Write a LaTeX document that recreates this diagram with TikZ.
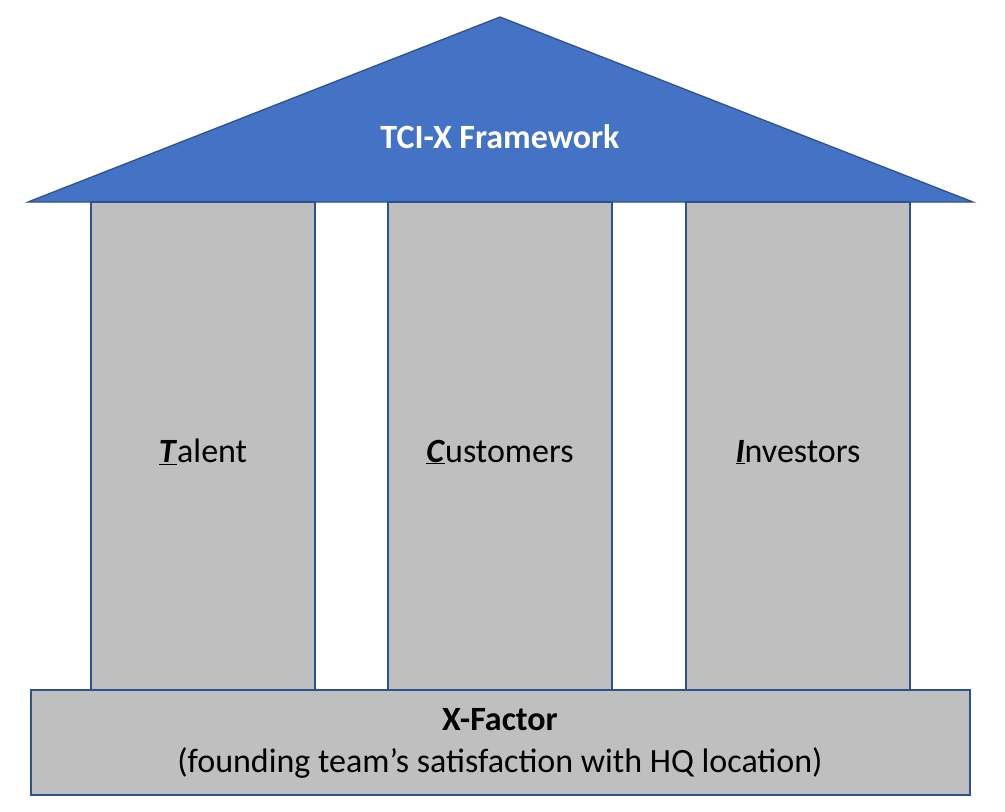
\documentclass[tikz,border=0pt]{standalone}
\usepackage{fontspec}
\setmainfont{Carlito}
\begin{document}
\begin{tikzpicture}[x=1pt,y=-1pt,
  lbl/.style={font=\fontsize{34}{42}\selectfont}]
\useasboundingbox (0,0) rectangle (1005,812);
\definecolor{roofc}{HTML}{4472C4}
\definecolor{edgec}{HTML}{2F528F}
\definecolor{grayc}{HTML}{BFBFBF}
\tikzset{part/.style={draw=edgec, line width=1.3pt, fill=grayc}}
\draw[fill=roofc, draw=edgec, line width=1.3pt] (28,202) -- (500,17) -- (973,202) -- cycle;
\node[lbl, text=white, font=\bfseries\fontsize{34}{42}\selectfont] (roof) at (500,137) {TCI-X Framework};
\draw[part] (91,202) rectangle (315,690);
\draw[part] (388,202) rectangle (612,690);
\draw[part] (686,202) rectangle (910,690);
\node[lbl] (t) at (203,452) {\underline{\textbf{\textit{T}}}alent};
\node[lbl] (c) at (500,452) {\underline{\textbf{\textit{C}}}ustomers};
\node[lbl] (i) at (798,452) {\underline{\textbf{\textit{I}}}nvestors};
\draw[part] (31,690) rectangle (970,795);
\node[lbl, align=center] (x) at (500,743) {\textbf{X-Factor}\\(founding team’s satisfaction with HQ location)};
\end{tikzpicture}
\end{document}
